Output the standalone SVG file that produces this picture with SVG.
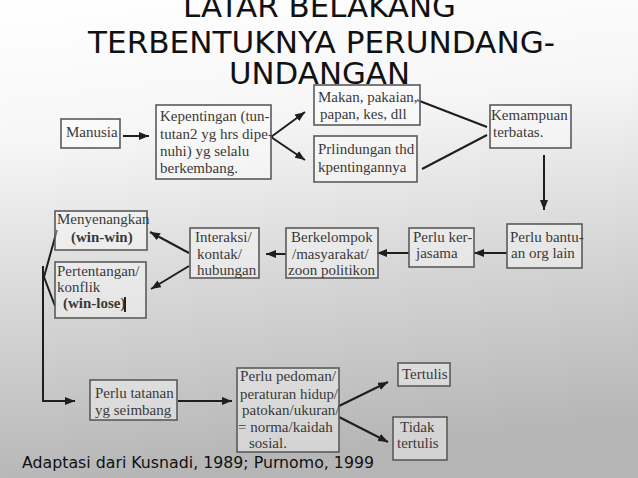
<svg xmlns="http://www.w3.org/2000/svg" width="638" height="478" viewBox="0 0 638 478">
<defs>
<linearGradient id="bg" x1="0" y1="0" x2="0.15" y2="1">
<stop offset="0" stop-color="#ffffff"/>
<stop offset="0.3" stop-color="#f6f6f6"/>
<stop offset="0.6" stop-color="#dadada"/>
<stop offset="1" stop-color="#b6b6b6"/>
</linearGradient>
<marker id="ah" markerUnits="userSpaceOnUse" markerWidth="10" markerHeight="8" refX="10" refY="4" orient="auto">
<path d="M0,0 L10,4 L0,8 z" fill="#1e1e1e"/>
</marker>
<style>
.title{font-family:"DejaVu Sans","Liberation Sans",sans-serif;font-size:30px;fill:#111}
.t{font-family:"Liberation Serif","Times New Roman",serif;font-size:15px;fill:#3a3a3a}
.b{font-weight:bold}
.box{fill:#ffffff;fill-opacity:0.4;stroke:#5a5a5a;stroke-width:1.6}
.c{fill:none;stroke:#1e1e1e;stroke-width:2}
.a{marker-end:url(#ah)}
.foot{font-family:"DejaVu Sans","Liberation Sans",sans-serif;font-size:15px;fill:#111}
</style>
</defs>
<rect width="638" height="478" fill="url(#bg)"/>

<g id="title">
<text class="title" x="183" y="17" textLength="273" lengthAdjust="spacingAndGlyphs">LATAR BELAKANG</text>
<text class="title" x="88" y="53" textLength="467" lengthAdjust="spacingAndGlyphs">TERBENTUKNYA PERUNDANG-</text>
<text class="title" x="229" y="84" textLength="181" lengthAdjust="spacingAndGlyphs">UNDANGAN</text>
</g>

<g id="connectors">
<line class="c a" x1="123" y1="136" x2="149" y2="136"/>
<line class="c a" x1="271" y1="137" x2="305" y2="112"/>
<line class="c a" x1="271" y1="137" x2="305" y2="160"/>
<line class="c" x1="417" y1="100" x2="487" y2="127"/>
<line class="c" x1="422" y1="169" x2="487" y2="135"/>
<line class="c a" x1="544" y1="155" x2="544" y2="210"/>
<line class="c a" x1="507" y1="253" x2="474" y2="253"/>
<line class="c a" x1="409" y1="253" x2="377" y2="253"/>
<line class="c a" x1="286" y1="254" x2="266" y2="254"/>
<line class="c a" x1="189" y1="253" x2="150" y2="232"/>
<line class="c a" x1="189" y1="266" x2="151" y2="289"/>
<polyline class="c" points="57,230 44,277 55,306"/>
<polyline class="c a" points="43,266 43,401 75,401"/>
<line class="c a" x1="178" y1="401" x2="232" y2="401"/>
<line class="c a" x1="339" y1="406" x2="388" y2="382"/>
<line class="c a" x1="339" y1="417" x2="388" y2="442"/>
</g>

<g id="manusia">
<rect class="box" x="61" y="119" width="59" height="29"/>
<text class="t" x="66" y="137">Manusia</text>
</g>

<g id="kepentingan">
<rect class="box" x="156" y="105" width="115" height="74"/>
<text class="t" x="160" y="121">Kepentingan (tun-</text>
<text class="t" x="160" y="139">tutan2 yg hrs dipe-</text>
<text class="t" x="160" y="156">nuhi) yg selalu</text>
<text class="t" x="160" y="173">berkembang.</text>
</g>

<g id="makan">
<rect class="box" x="314" y="85" width="106" height="40"/>
<text class="t" x="318" y="102">Makan, pakaian,</text>
<text class="t" x="320" y="119">papan, kes, dll</text>
</g>

<g id="prlindungan">
<rect class="box" x="314" y="136" width="103" height="46"/>
<text class="t" x="318" y="154">Prlindungan thd</text>
<text class="t" x="318" y="172">kpentingannya</text>
</g>

<g id="kemampuan">
<rect class="box" x="490" y="105" width="81" height="43"/>
<text class="t" x="491" y="120">Kemampuan</text>
<text class="t" x="493" y="137">terbatas.</text>
</g>

<g id="bantuan">
<rect class="box" x="507" y="224" width="75" height="44"/>
<text class="t" x="510" y="242">Perlu bantu-</text>
<text class="t" x="511" y="258">an org lain</text>
</g>

<g id="kerjasama">
<rect class="box" x="409" y="228" width="65" height="39"/>
<text class="t" x="413" y="242">Perlu ker-</text>
<text class="t" x="416" y="258">jasama</text>
</g>

<g id="berkelompok">
<rect class="box" x="286" y="228" width="92" height="50"/>
<text class="t" x="291" y="242">Berkelompok</text>
<text class="t" x="292" y="259">/masyarakat/</text>
<text class="t" x="288" y="275">zoon politikon</text>
</g>

<g id="interaksi">
<rect class="box" x="190" y="228" width="69" height="50"/>
<text class="t" x="195" y="242">Interaksi/</text>
<text class="t" x="197" y="259">kontak/</text>
<text class="t" x="197" y="275">hubungan</text>
</g>

<g id="menyenangkan">
<rect class="box" x="55" y="211" width="92" height="39"/>
<text class="t" x="57" y="224">Menyenangkan</text>
<text class="t b" x="71" y="242">(win-win)</text>
</g>

<g id="pertentangan">
<rect class="box" x="55" y="262" width="91" height="56"/>
<text class="t" x="57" y="276">Pertentangan/</text>
<text class="t" x="57" y="292">konflik</text>
<text class="t b" x="63" y="308">(win-lose)</text>
<line x1="125" y1="297" x2="125" y2="312" stroke="#222" stroke-width="2"/>
</g>

<g id="tatanan">
<rect class="box" x="90" y="380" width="87" height="40"/>
<text class="t" x="95" y="398">Perlu tatanan</text>
<text class="t" x="95" y="415">yg seimbang</text>
</g>

<g id="pedoman">
<rect class="box" x="237" y="368" width="102" height="84"/>
<text class="t" x="240" y="381" textLength="96" lengthAdjust="spacingAndGlyphs">Perlu pedoman/</text>
<text class="t" x="240" y="399" textLength="98" lengthAdjust="spacingAndGlyphs">peraturan hidup/</text>
<text class="t" x="242" y="415">patokan/ukuran/</text>
<text class="t" x="238" y="432">= norma/kaidah</text>
<text class="t" x="249" y="448">sosial.</text>
</g>

<g id="tertulis">
<rect class="box" x="398" y="363" width="52" height="23"/>
<text class="t" x="402" y="379">Tertulis</text>
</g>

<g id="tidak">
<rect class="box" x="393" y="417" width="54" height="43"/>
<text class="t" x="400" y="432">Tidak</text>
<text class="t" x="397" y="448">tertulis</text>
</g>

<text class="foot" x="22" y="468" textLength="352" lengthAdjust="spacingAndGlyphs">Adaptasi dari Kusnadi, 1989; Purnomo, 1999</text>
</svg>
